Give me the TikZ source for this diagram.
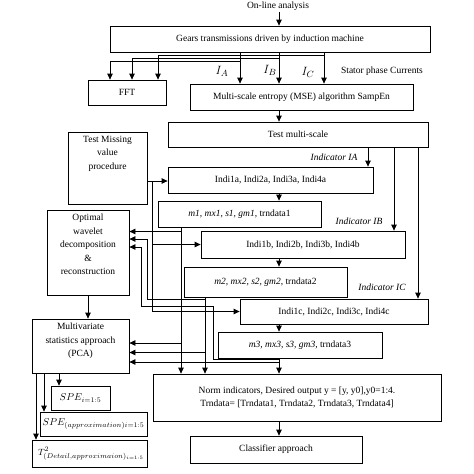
\documentclass[tikz,border=0pt]{standalone}
\usepackage{fontspec}
\setmainfont{Liberation Serif}
\usepackage{amsmath,bm}
\usetikzlibrary{arrows.meta,calc}
\begin{document}
\begin{tikzpicture}[x=1pt,y=-1pt,line width=0.8pt,
  txt/.style={font=\fontsize{9.5}{13.5}\selectfont},
  box/.style={draw,rectangle,inner sep=0pt,align=center,txt},
  toplbl/.style={anchor=north,inner sep=0pt,yshift=-4pt,align=center,txt},
  lbl/.style={font=\fontsize{9.5}{11}\selectfont\itshape,inner sep=0pt},
  cur/.style={font=\fontsize{13}{15}\selectfont,inner sep=0pt},
  mth/.style={font=\fontsize{10}{12}\selectfont},
  arr/.style={-{Triangle[length=6pt,width=5.5pt]}}]
\useasboundingbox (0,0) rectangle (474,474);

% ---- boxes ----
\node[txt,inner sep=1pt,anchor=base] (online) at (278,8.5) {On-line analysis};
\node[box,minimum width=320,minimum height=26] (gears) at (270,39) {Gears transmissions driven by induction machine};
\node[box,minimum width=78,minimum height=25] (fft) at (127,92.5) {FFT};
\node[box,minimum width=223,minimum height=26] (mse) at (301.5,97) {Multi-scale entropy (MSE) algorithm SampEn};
\node[box,minimum width=260,minimum height=25] (tms) at (298,134.5) {Test multi-scale};
\node[box,minimum width=205,minimum height=26] (ia) at (270.5,180) {Indi1a, Indi2a, Indi3a, Indi4a};
\node[box,minimum width=163,minimum height=26] (m1) at (239.5,214) {\textit{m1, mx1, s1, gm1}, trndata1};
\node[box,minimum width=204,minimum height=27] (ib) at (303,244.5) {Indi1b, Indi2b, Indi3b, Indi4b};
\node[box,minimum width=163,minimum height=30] (m2) at (265.5,282) {\textit{m2, mx2, s2, gm2}, trndata2};
\node[box,minimum width=188,minimum height=25] (ic) at (334,311.5) {Indi1c, Indi2c, Indi3c, Indi4c};
\node[box,minimum width=164,minimum height=26] (m3) at (300,345) {\textit{m3, mx3, s3, gm3,} trndata3};
\node[box,minimum width=288,minimum height=47] (norm) at (297,397.5) {Norm indicators, Desired output y = [y, y0],y0=1:4.\\Trndata= [Trndata1, Trndata2, Trndata3, Trndata4]};
\node[box,minimum width=172,minimum height=27] (cls) at (276,449.5) {Classifier approach};

\node[box,minimum width=79,minimum height=72,label={[toplbl]north:{Test Missing\\value\\procedure}}] (tm) at (107.5,168) {};
\node[box,minimum width=82,minimum height=85,label={[toplbl]north:{Optimal\\wavelet\\decomposition\\\&\\reconstruction}}] (ow) at (88,252.5) {};
\node[box,minimum width=97,minimum height=54,label={[toplbl]north:{Multivariate\\statistics approach\\(PCA)}}] (mv) at (80.5,346) {};
\node[box,minimum width=59,minimum height=24,mth] (spe1) at (80.5,398) {$SPE_{i=1:5}$};
\node[box,minimum width=107,minimum height=24,mth] (spe2) at (93.5,424) {$SPE_{(approximation)i=1:5}$};
\node[box,minimum width=115,minimum height=27,font=\fontsize{9.3}{11}\selectfont] (t2) at (89.5,453.5) {\hspace*{3pt}$T^2_{(Detail,approximaion)_{i=1:5}}$};

% ---- labels ----
\node[cur] (la) at (222,71) {$I_A$};
\node[cur] (lb) at (270,70) {$I_B$};
\node[cur] (lc) at (308,72) {$I_C$};
\node[txt,inner sep=0pt] (spc) at (382,71) {Stator phase Currents};
\node[lbl] (lia) at (334,157) {Indicator IA};
\node[lbl] (lib) at (359,221) {Indicator IB};
\node[lbl] (lic) at (382,287) {Indicator IC};

% ---- helper coordinates ----
\coordinate (xA) at (240,0); \coordinate (xB) at (279,0); \coordinate (xC) at (324,0);
\coordinate (hA) at (0,61); \coordinate (hB) at (0,58.5); \coordinate (hC) at (0,55.5);
\coordinate (xF1) at (110,0); \coordinate (xF2) at (132,0); \coordinate (xF3) at (158,0);
\coordinate (x1) at (368,0); \coordinate (x2) at (394,0); \coordinate (x3) at (418,0);
\coordinate (tj) at (152,181);
\coordinate (v1) at (181,0); \coordinate (v2) at (205,0);
\coordinate (o1) at (0,231.5); \coordinate (o2) at (0,239); \coordinate (o3) at (0,247);
\coordinate (p1) at (0,343); \coordinate (p2) at (0,352.5); \coordinate (p3) at (0,362);
\coordinate (q2) at (0,299.5); \coordinate (w2) at (147,0);
\coordinate (q3) at (0,306.5); \coordinate (w3) at (141,0); \coordinate (u3) at (213.5,0); \coordinate (r3) at (0,359.5);
\coordinate (s1) at (59,0); \coordinate (s2) at (44,0); \coordinate (s3) at (36,0);

% ---- connectors ----
\draw[arr] (online.south -| xB) -- (gears.north -| xB);
\draw[arr] (gears.south -| xA) -- (mse.north -| xA);
\draw[arr] (gears.south -| xB) -- (mse.north -| xB);
\draw[arr] (gears.south -| xC) -- (mse.north -| xC);
\draw[arr] (xA |- hA) -| (fft.north -| xF1);
\draw[arr] (xB |- hB) -| (fft.north -| xF2);
\draw[arr] (xC |- hC) -| (fft.north -| xF3);

\draw[arr] (mse.south -| xB) -- (tms.north -| xB);
\draw[arr] (tms.south -| x1) -- (ia.north -| x1);
\draw[arr] (tms.south -| x2) -- (ib.north -| x2);
\draw[arr] (tms.south -| x3) -- (ic.north -| x3);
\draw[arr] (ia.south -| xB) -- (m1.north -| xB);
\draw[arr] (ib.south -| xB) -- (m2.north -| xB);
\draw[arr] (ic.south -| xB) -- (m3.north -| xB);
\draw[arr] (m3.south -| xB) -- (norm.north -| xB);
\draw[arr] (norm.south -| xB) -- (cls.north -| xB);

\draw[arr] (tm.east |- tj) -- (ia.west |- tj);
\draw[arr] (tj) |- (ic.west);
\draw[arr] (tj |- ib.west) -- (ib.west);

\draw[arr] (m1.south -| v1) -- (norm.north -| v1);
\draw[arr] (v1 |- o1) -- (ow.east |- o1);
\draw[arr] (v1 |- p1) -- (mv.east |- p1);

\draw[arr] (m2.south -| v2) -- (norm.north -| v2);
\draw[arr] (v2 |- q2) -| (w2 |- o2) -- (ow.east |- o2);
\draw[arr] (v2 |- p2) -- (mv.east |- p2);

\draw[arr] (xB |- r3) -| (u3 |- q3) -| (w3 |- o3) -- (ow.east |- o3);
\draw[arr] (xB |- p3) -- (mv.east |- p3);

\draw[arr] (ow.south) -- (mv.north -| ow.south);
\draw[arr] (mv.south -| s1) -- (spe1.north -| s1);
\draw[arr] (mv.south -| s2) -- (spe2.north -| s2);
\draw[arr] (mv.south -| s3) -- (t2.north -| s3);
\end{tikzpicture}
\end{document}
